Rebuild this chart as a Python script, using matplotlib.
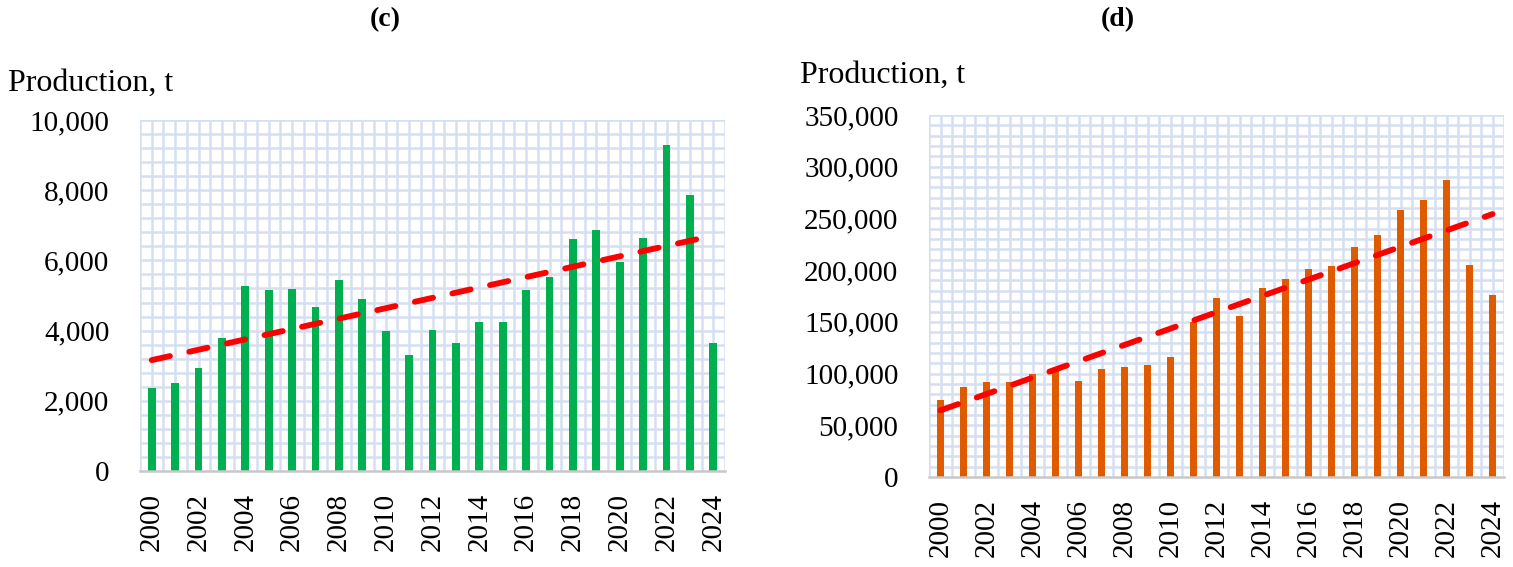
import numpy as np
import matplotlib.pyplot as plt
from matplotlib.ticker import FuncFormatter

plt.rcParams['font.family'] = ['Liberation Serif', 'DejaVu Serif']

years = list(range(2000, 2025))
prod_c = [2370, 2510, 2930, 3780, 5270, 5170, 5180, 4660, 5440, 4900, 3990, 3310, 4030,
          3660, 4250, 4250, 5170, 5540, 6620, 6870, 5950, 6650, 9300, 7870, 3660]
prod_d = [74000, 87000, 92000, 92000, 100000, 103000, 93000, 104000, 106000, 108000,
          116000, 150000, 173000, 156000, 183000, 191000, 201000, 204000, 222000,
          234000, 258000, 268000, 287000, 205000, 176000]

W, H = 1513, 567
fig = plt.figure(figsize=(W / 100, H / 100), dpi=100)

grid_col = '#d5dff1'
fmt = FuncFormatter(lambda v, p: f'{int(v):,}')


def panel(rect, values, color, ymax, major, minor, bar_w):
    l, t, r, b = rect
    ax = fig.add_axes([l / W, (H - b) / H, (r - l) / W, (b - t) / H])
    x = np.arange(len(years))
    # grid: horizontal every minor step, vertical every half category
    for y in np.arange(minor, ymax + 1, minor):
        ax.axhline(y, color=grid_col, lw=1.8, zorder=0)
    for v in np.arange(-0.5, len(years), 0.5):
        ax.axvline(v, color=grid_col, lw=1.8, zorder=0)
    ax.bar(x, values, width=bar_w, color=color, zorder=2)
    # linear trend line
    k, c0 = np.polyfit(x, values, 1)
    ax.plot(x, k * x + c0, color='#ff0000', lw=4.2, dashes=(3.2, 3.4),
            dash_capstyle='round', zorder=3)
    ax.set_xlim(-0.5, len(years) - 0.5)
    ax.set_ylim(0, ymax)
    ax.set_yticks(np.arange(0, ymax + 1, major))
    ax.yaxis.set_major_formatter(fmt)
    ax.set_xticks(x[::2])
    ax.set_xticklabels([str(y) for y in years[::2]], rotation=90)
    ax.tick_params(axis='y', length=0, pad=22, labelsize=21)
    ax.tick_params(axis='x', length=0, pad=16, labelsize=21)
    for s in ['top', 'right', 'left']:
        ax.spines[s].set_visible(False)
    ax.spines['bottom'].set_color('#c8c8c8')
    ax.spines['bottom'].set_linewidth(1.8)
    return ax


panel((140, 120, 725, 471), prod_c, '#00b050', 10000, 2000, 400, 0.33)
panel((929, 115, 1504, 477), prod_d, '#e05a00', 350000, 50000, 10000, 0.32)

fig.text(8 / W, 1 - 83 / H, 'Production, t', fontsize=23, va='center', ha='left')
fig.text(800 / W, 1 - 75 / H, 'Production, t', fontsize=23, va='center', ha='left')
fig.text(385 / W, 1 - 20 / H, '(c)', fontsize=20, fontweight='bold', ha='center', va='center')
fig.text(1118 / W, 1 - 20 / H, '(d)', fontsize=20, fontweight='bold', ha='center', va='center')

fig.savefig('out.png', dpi=100)
